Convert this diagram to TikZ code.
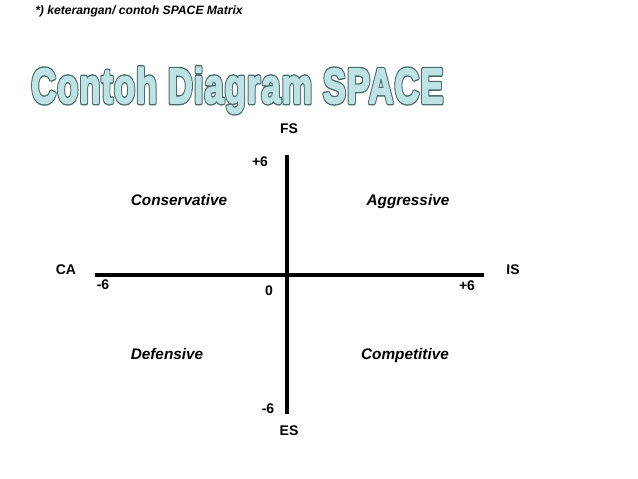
\documentclass[tikz,border=0pt]{standalone}
\usepackage{fontspec}
\setmainfont{Liberation Sans}
\usepackage{graphicx}
\definecolor{titlefill}{HTML}{BEE3E5}
\newcommand{\outlinetext}[1]{\rlap{\special{pdf:code q 0.29 0.42 0.42 RG 3.4 w 1 j 1 Tr}#1\special{pdf:code 0 Tr Q}}{\color{titlefill}\special{pdf:code q 0.745 0.89 0.898 RG 1.3 w 1 j 2 Tr}#1\special{pdf:code 0 Tr Q}}}
\tikzset{
  lbl/.style={font=\fontsize{10.5pt}{12pt}\selectfont\bfseries, inner sep=0pt},
  quad/.style={font=\fontsize{11.5pt}{13pt}\selectfont\bfseries\itshape, inner sep=0pt, anchor=base},
  axis/.style={line width=2.3pt, black}
}
\begin{document}
\begin{tikzpicture}[x=0.75pt,y=-0.75pt]
\useasboundingbox (0,0) rectangle (638,478);
\node[anchor=west, inner sep=0pt, font=\fontsize{9.1pt}{10pt}\selectfont\bfseries\itshape] (note) at (35,11) {*) keterangan/ contoh SPACE Matrix};
\node[anchor=base west, inner sep=0pt] (title) at (31,103) {\scalebox{0.7}[1]{\fontsize{37pt}{40pt}\selectfont\bfseries\addfontfeature{LetterSpace=3}\outlinetext{Contoh Diagram SPACE}}};
\coordinate (left) at (95,275);
\coordinate (right) at (484,275);
\coordinate (top) at (287,155);
\coordinate (bottom) at (287,414);
\draw[axis] (left) -- (right);
\draw[axis] (top) -- (bottom);
\node[lbl] (fs) at (289,129) {FS};
\node[lbl] (es) at (289,431) {ES};
\node[lbl] (ca) at (66,270) {CA};
\node[lbl] (is) at (513,270) {IS};
\node[lbl] (pfs) at (260,162) {+6};
\node[lbl] (mes) at (268,409) {-6};
\node[lbl] (mca) at (103,285) {-6};
\node[lbl] (pis) at (467,286) {+6};
\node[lbl] (zero) at (269,291) {0};
\node[quad] (cons) at (179,205) {Conservative};
\node[quad] (aggr) at (408,205) {Aggressive};
\node[quad] (def) at (167,359) {Defensive};
\node[quad] (comp) at (405,359) {Competitive};
\end{tikzpicture}
\end{document}
